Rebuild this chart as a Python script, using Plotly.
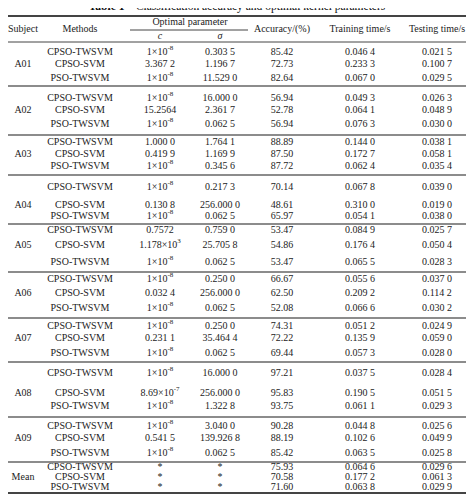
import plotly.graph_objects as go

subjects = ["A01", "A02", "A03", "A04", "A05", "A06", "A07", "A08", "A09", "Mean"]
methods = ["CPSO-TWSVM", "CPSO-SVM", "PSO-TWSVM"]
E8 = "1×10<sup>-8</sup>"
c_vals = [E8, "3.367 2", E8,
          E8, "15.2564", E8,
          "1.000 0", "0.419 9", E8,
          E8, "0.130 8", E8,
          "0.7572", "1.178×10<sup>3</sup>", E8,
          E8, "0.032 4", E8,
          E8, "0.231 1", E8,
          E8, "8.69×10<sup>-7</sup>", E8,
          E8, "0.541 5", E8,
          "*", "*", "*"]
sigma_vals = ["0.303 5", "1.196 7", "11.529 0",
              "16.000 0", "2.361 7", "0.062 5",
              "1.764 1", "1.169 9", "0.345 6",
              "0.217 3", "256.000 0", "0.062 5",
              "0.759 0", "25.705 8", "0.062 5",
              "0.250 0", "256.000 0", "0.062 5",
              "0.250 0", "35.464 4", "0.062 5",
              "16.000 0", "256.000 0", "1.322 8",
              "3.040 0", "139.926 8", "0.062 5",
              "*", "*", "*"]
accuracy = ["85.42", "72.73", "82.64", "56.94", "52.78", "56.94",
            "88.89", "87.50", "87.72", "70.14", "48.61", "65.97",
            "53.47", "54.86", "53.47", "66.67", "62.50", "52.08",
            "74.31", "72.22", "69.44", "97.21", "95.83", "93.75",
            "90.28", "88.19", "85.42", "75.93", "70.58", "71.60"]
train_time = ["0.046 4", "0.233 3", "0.067 0", "0.049 3", "0.064 1", "0.076 3",
              "0.144 0", "0.172 7", "0.062 4", "0.067 8", "0.310 0", "0.054 1",
              "0.084 9", "0.176 4", "0.065 5", "0.055 6", "0.209 2", "0.066 6",
              "0.051 2", "0.135 9", "0.057 3", "0.037 5", "0.190 5", "0.061 1",
              "0.044 8", "0.102 6", "0.063 5", "0.064 6", "0.177 2", "0.063 8"]
test_time = ["0.021 5", "0.100 7", "0.029 5", "0.026 3", "0.048 9", "0.030 0",
             "0.038 1", "0.058 1", "0.035 4", "0.039 0", "0.019 0", "0.038 0",
             "0.025 7", "0.050 4", "0.028 3", "0.037 0", "0.114 2", "0.030 2",
             "0.024 9", "0.059 0", "0.028 0", "0.028 4", "0.051 5", "0.029 3",
             "0.025 6", "0.049 9", "0.025 8", "0.029 6", "0.061 3", "0.029 9"]
headers = ["Subject", "Methods", "Accuracy/(%)", "Training time/s", "Testing time/s"]

# layout (pixel-like coordinates)
row_y = [52, 64, 78, 98, 110, 124, 142, 154, 166,
         187, 205, 216, 230, 245, 262, 279, 293, 308,
         326, 338, 353, 373, 393, 406, 426, 438, 453, 467, 477, 487]
rule_y = [86, 135, 175, 224, 272, 318, 362, 417, 462]
col_x = [23, 80, 160, 220, 282, 360, 437]
FONT = dict(family="Liberation Serif", size=10, color="#222")

fig = go.Figure()
meth_col = [methods[i % 3] for i in range(len(row_y))]
for x, col in zip(col_x[1:], [meth_col, c_vals, sigma_vals, accuracy, train_time, test_time]):
    fig.add_trace(go.Scatter(x=[x] * len(col), y=row_y, text=col, mode="text",
                             textfont=FONT, hoverinfo="skip"))
subj_y = [row_y[3 * i + 1] for i in range(len(subjects))]
fig.add_trace(go.Scatter(x=[col_x[0]] * len(subjects), y=subj_y, text=subjects,
                         mode="text", textfont=FONT, hoverinfo="skip"))
fig.add_trace(go.Scatter(x=[col_x[0], col_x[1], col_x[4], col_x[5], col_x[6]], y=[29] * 5,
                         text=headers, mode="text", textfont=FONT, hoverinfo="skip"))
fig.add_trace(go.Scatter(x=[(col_x[2] + col_x[3]) / 2, col_x[2], col_x[3]], y=[22, 36, 36],
                         text=["Optimal parameter", "<i>c</i>", "<i>σ</i>"], mode="text",
                         textfont=FONT, hoverinfo="skip"))
fig.add_trace(go.Scatter(x=[237], y=[7], mode="text",
                         textfont=dict(family="Liberation Serif", size=11.5, color="#111"),
                         text=["<b>Table 1</b>    Classification accuracy and optimal kernel parameters"],
                         hoverinfo="skip"))

for y in [16, 493]:
    fig.add_shape(type="line", x0=0, x1=474, y0=y, y1=y, line=dict(color="#444", width=2))
fig.add_shape(type="line", x0=0, x1=474, y0=42, y1=42, line=dict(color="#444", width=1))
fig.add_shape(type="line", x0=130, x1=248, y0=30, y1=30, line=dict(color="#444", width=1))
for y in rule_y:
    fig.add_shape(type="line", x0=0, x1=474, y0=y, y1=y, line=dict(color="#666", width=1.5))

# page body adds an 8px offset, so shift the visible window by 8
fig.update_xaxes(range=[8, 482], visible=False)
fig.update_yaxes(range=[508, 8], visible=False)
fig.update_layout(width=474, height=500, margin=dict(l=0, r=0, t=0, b=0),
                  showlegend=False, plot_bgcolor="white", paper_bgcolor="white")
fig.write_html("out.html")
